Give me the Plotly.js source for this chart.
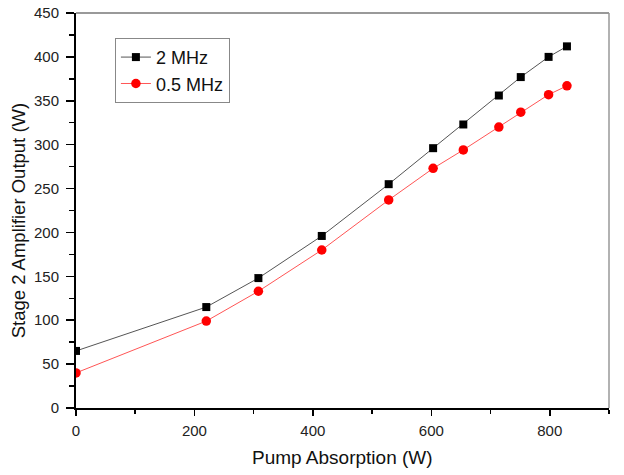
<!DOCTYPE html>
<html>
<head>
<meta charset="utf-8">
<script src="https://cdn.plot.ly/plotly-3.0.1.min.js"></script>
<style>html,body{margin:0;padding:0;background:#fff;}#chart{width:624px;height:475px;}</style>
</head>
<body>
<div id="chart"></div>
<script>
const pump2MHz = [0, 220, 308, 415, 528, 603, 654, 714, 751, 798, 829];
const out2MHz = [65, 115, 148, 196, 255, 296, 323, 356, 377, 400, 412];
const pump05MHz = [0, 220, 308, 415, 528, 603, 654, 714, 751, 798, 829];
const out05MHz = [40, 99, 133, 180, 237, 273, 294, 320, 337, 357, 367];
const seriesNames = ["2 MHz", "0.5 MHz"];
const xTicks = [0, 200, 400, 600, 800];
const yTicks = [0, 50, 100, 150, 200, 250, 300, 350, 400, 450];
const xTitle = "Pump Absorption (W)";
const yTitle = "Stage 2 Amplifier Output (W)";

const traces = [
  {x: pump2MHz, y: out2MHz, name: seriesNames[0], mode: "lines+markers",
   line: {color: "#555555", width: 1}, marker: {symbol: "square", size: 8, color: "#000000"}},
  {x: pump05MHz, y: out05MHz, name: seriesNames[1], mode: "lines+markers",
   line: {color: "#ff5555", width: 1}, marker: {symbol: "circle", size: 9.5, color: "#ff0000"}}
];

const fam = "Arial, Liberation Sans, sans-serif";
const tickFont = {family: fam, size: 15, color: "#222"};
const layout = {
  width: 624, height: 475,
  margin: {l: 76, r: 15, t: 13, b: 67},
  paper_bgcolor: "#fff", plot_bgcolor: "#fff",
  showlegend: true,
  legend: {x: 0.073, y: 0.937, xanchor: "left", yanchor: "top",
    bordercolor: "#888", borderwidth: 1, bgcolor: "#fff",
    font: {family: fam, size: 18, color: "#111"},
    tracegroupgap: 0},
  xaxis: {range: [0, 900], tickvals: xTicks, ticks: "outside", ticklen: 6, tickwidth: 1.5,
    tickcolor: "#000", showline: true, linecolor: "#000", linewidth: 2, showgrid: false, zeroline: false,
    tickfont: tickFont, ticklabelstandoff: 2,
    minor: {dtick: 100, ticks: "outside", ticklen: 4, tickcolor: "#000", tickwidth: 1.5}},
  yaxis: {range: [0, 450], tickvals: yTicks, ticks: "outside", ticklen: 8, tickwidth: 1.5,
    tickcolor: "#000", showline: true, linecolor: "#000", linewidth: 2, showgrid: false, zeroline: false,
    tickfont: tickFont, ticklabelstandoff: 4,
    minor: {dtick: 25, ticks: "outside", ticklen: 5, tickcolor: "#000", tickwidth: 1.5}},
  annotations: [
    {text: xTitle, xref: "paper", yref: "paper", x: 0.5, y: -0.126, xanchor: "center", yanchor: "middle",
     showarrow: false, font: {family: fam, size: 19, color: "#111"}},
    {text: yTitle, xref: "paper", yref: "paper", x: -0.109, y: 0.475, xanchor: "center", yanchor: "middle",
     textangle: -90, showarrow: false, font: {family: fam, size: 18.5, color: "#111"}}
  ],
  shapes: [
    {type: "line", xref: "paper", yref: "paper", x0: 0, x1: 1, y0: 1, y1: 1, line: {color: "#777", width: 1.5}},
    {type: "line", xref: "paper", yref: "paper", x0: 1, x1: 1, y0: 0, y1: 1, line: {color: "#999", width: 1.5}}
  ]
};
Plotly.newPlot("chart", traces, layout, {displayModeBar: false, staticPlot: true});
</script>
</body>
</html>
